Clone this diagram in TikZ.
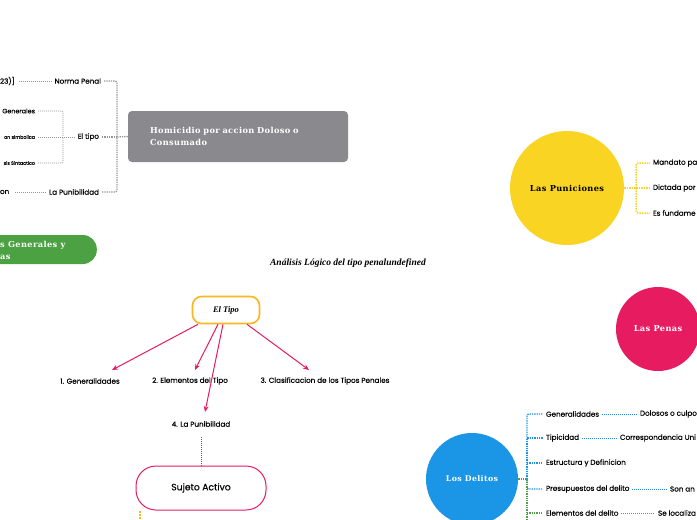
\documentclass[tikz,border=0pt]{standalone}
\usepackage{fontspec}
\usetikzlibrary{arrows.meta}
\newfontfamily\labelfont{Poppins}[FakeBold=0.35]
\newfontfamily\slabfont{DejaVu Serif}[LetterSpace=5]
\newfontfamily\gothfont{Liberation Serif}

\begin{document}
\begin{tikzpicture}[x=1pt,y=-1pt,
  lbl/.style={font=\labelfont\fontsize{7.2}{8}\selectfont, inner sep=0pt, outer sep=3pt},
  tinylbl/.style={lbl, font=\labelfont\fontsize{4.8}{6}\selectfont},
  slab/.style={font=\slabfont\bfseries\fontsize{8.2}{12}\selectfont},
  graylink/.style={draw=linkGray, line width=1.3pt, dash pattern=on 1.3pt off 1pt, rounded corners=2pt},
  thinlink/.style={line width=0.6pt, dash pattern=on 1pt off 1pt},
  pinkarrow/.style={draw=penaPink, line width=1pt, -{Stealth[length=6pt,width=5pt]}},
  bubble/.style={circle, inner sep=0pt, slab}]
\definecolor{boxGray}{RGB}{138,138,142}
\definecolor{linkGray}{RGB}{150,150,150}
\definecolor{temaGreen}{RGB}{76,161,66}
\definecolor{puniYellow}{RGB}{249,212,35}
\definecolor{penaPink}{RGB}{231,28,96}
\definecolor{delitoBlue}{RGB}{27,150,230}
\definecolor{tipoOrange}{RGB}{252,182,30}
\path[use as bounding box,fill=white] (0,0) rectangle (697,520);
\clip (0,0) rectangle (697,520);

% homicidio y sus ramas
\node[slab, text=white, fill=boxGray, rounded corners=4pt, minimum width=220, minimum height=51,
  align=left, text width=176, inner xsep=22] (homicidio) at (238,136.5) {Homicidio por accion Doloso o\\Consumado};
\node[lbl, anchor=east] (norma) at (104,81) {Norma Penal};
\node[lbl, anchor=east] (eltipo) at (102,137) {El tipo};
\node[lbl, anchor=east] (punib) at (102,192) {La Punibilidad};
\node[lbl, anchor=west, outer sep=0pt] (art) at (0,81) {23)]};
\node[lbl, anchor=west, outer sep=0pt] (accion) at (0,192) {on};
\node[lbl, anchor=east, font=\labelfont\fontsize{6.4}{7}\selectfont] (generales) at (38,111) {Generales};
\node[tinylbl, anchor=east] (simbolica) at (38,137) {on simbolica};
\node[tinylbl, anchor=east] (sintactico) at (38,163) {sis Sintactico};
\coordinate (gjoin) at (117,137);
\coordinate (tjoin) at (63,137);
\draw[graylink] (homicidio.west) -- (gjoin);
\draw[graylink] (norma.east) -| (gjoin);
\draw[graylink] (eltipo.east) -- (gjoin);
\draw[graylink] (punib.east) -| (gjoin);
\draw[linkGray, thinlink] ([xshift=4pt]art.east) -- (norma.west);
\draw[linkGray, thinlink] ([xshift=6pt]accion.east) -- (punib.west);
\draw[linkGray, thinlink, rounded corners=2pt] (generales.east) -| (tjoin);
\draw[linkGray, thinlink, rounded corners=2pt] (sintactico.east) -| (tjoin);
\draw[linkGray, thinlink] (simbolica.east) -- (eltipo.west);

% tema verde
\node[fill=temaGreen, rounded corners=14pt, minimum width=160, minimum height=29, anchor=east] (temas) at (97,249.5) {};
\node[slab, text=white, align=left, anchor=north west, inner sep=0pt] (temastxt) at (0,241) {s Generales y\\as};

% titulo
\node (titulo) at (348,263) {\gothfont\bfseries\itshape\fontsize{9.5}{11}\selectfont Análisis Lógico del tipo penalundefined};

% el tipo
\node[draw=tipoOrange, line width=1.6pt, rounded corners=9pt, minimum width=67, minimum height=27] (tipo) at (226,310) {\gothfont\bfseries\itshape\fontsize{8.5}{9}\selectfont El Tipo};
\node[lbl, outer sep=0pt] (gen1) at (90,381) {1. Generalidades};
\node[lbl, outer sep=0pt] (elem2) at (190,381) {2. Elementos del Tipo};
\node[lbl, outer sep=0pt] (clas3) at (325,381) {3. Clasificacion de los Tipos Penales};
\node[lbl, outer sep=0pt] (pun4) at (201,424) {4. La Punibilidad};
\draw[pinkarrow] ([xshift=-28pt]tipo.south) -- ([shift={(22,-11)}]gen1.center);
\draw[pinkarrow] ([xshift=-8pt]tipo.south) -- ([shift={(5,-11)}]elem2.center);
\draw[pinkarrow] ([xshift=21pt]tipo.south) -- ([shift={(-16,-11)}]clas3.center);
\draw[pinkarrow] ([xshift=-3pt]tipo.south) -- ([shift={(4,-12)}]pun4.center);
\node[draw=penaPink, line width=1pt, fill=white, rounded corners=20pt, minimum width=130, minimum height=44,
  font=\labelfont\fontsize{9.2}{10}\selectfont] (sujeto) at (201,488) {Sujeto Activo};
\draw[penaPink, thinlink, line width=0.8pt] ([yshift=-10pt]pun4.south) -- (sujeto.north);
\draw[tipoOrange, line width=1.5pt, dash pattern=on 2pt off 1pt] ([xshift=-61pt]sujeto.south) -- ++(0,12);

% las puniciones
\node[bubble, fill=puniYellow, minimum size=114] (puniciones) at (567,188) {Las Puniciones};
\node[lbl, anchor=west] (mandato) at (650,163) {Mandato pa};
\node[lbl, anchor=west] (dictada) at (650,188) {Dictada por};
\node[lbl, anchor=west] (fundam) at (650,213) {Es fundame};
\coordinate (yjoin) at (636,188);
\draw[puniYellow, line width=1.5pt, dash pattern=on 1.5pt off 1pt] (puniciones.east) -- (yjoin);
\draw[puniYellow, line width=1.5pt, dash pattern=on 1.5pt off 1pt, rounded corners=2pt] (yjoin) |- (mandato.west);
\draw[puniYellow, line width=1.5pt, dash pattern=on 1.5pt off 1pt] (yjoin) -- (dictada.west);
\draw[puniYellow, line width=1.5pt, dash pattern=on 1.5pt off 1pt, rounded corners=2pt] (yjoin) |- (fundam.west);

% las penas
\node[bubble, fill=penaPink, text=white, minimum size=84] (penas) at (658,329) {Las Penas};

% los delitos
\node[bubble, fill=delitoBlue, text=white, minimum size=92, font=\slabfont\bfseries\fontsize{7.8}{9}\selectfont] (delitos) at (472,479) {Los Delitos};
\node[lbl, anchor=west] (generalid) at (543,414) {Generalidades};
\node[lbl, anchor=west] (tipicidad) at (543,438) {Tipicidad};
\node[lbl, anchor=west] (estructura) at (543,463) {Estructura y Definicion};
\node[lbl, anchor=west] (presup) at (543,489) {Presupuestos del delito};
\node[lbl, anchor=west] (elementos) at (543,513) {Elementos del delito};
\node[lbl, anchor=west] (dolosos) at (637,414) {Dolosos o culpo};
\node[lbl, anchor=west] (correspond) at (617,438) {Correspondencia Uni};
\node[lbl, anchor=west] (sonan) at (667,489) {Son an};
\node[lbl, anchor=west] (localiza) at (655,513) {Se localiza};
\coordinate (bjoin) at (527,479);
\coordinate (gend) at (527,530);
\draw[delitoBlue, line width=1.3pt, dash pattern=on 1.3pt off 1pt, rounded corners=2pt] (bjoin) |- (generalid.west);
\draw[delitoBlue, line width=1.3pt, dash pattern=on 1.3pt off 1pt] (bjoin) |- (tipicidad.west);
\draw[delitoBlue, line width=1.3pt, dash pattern=on 1.3pt off 1pt] (bjoin) |- (estructura.west);
\draw[delitoBlue, line width=1.3pt, dash pattern=on 1.3pt off 1pt, rounded corners=2pt] (bjoin) |- (presup.west);
\draw[delitoBlue, thinlink] (generalid.east) -- (dolosos.west);
\draw[delitoBlue, thinlink] (tipicidad.east) -- (correspond.west);
\draw[delitoBlue, thinlink] (presup.east) -- (sonan.west);
\draw[temaGreen, line width=1.3pt, dash pattern=on 1.3pt off 1pt] (delitos.east) -- (bjoin) -- (gend);
\draw[temaGreen, line width=1.3pt, dash pattern=on 1.3pt off 1pt] (bjoin |- elementos.west) -- (elementos.west);
\draw[temaGreen, thinlink] (elementos.east) -- (localiza.west);
\end{tikzpicture}
\end{document}
